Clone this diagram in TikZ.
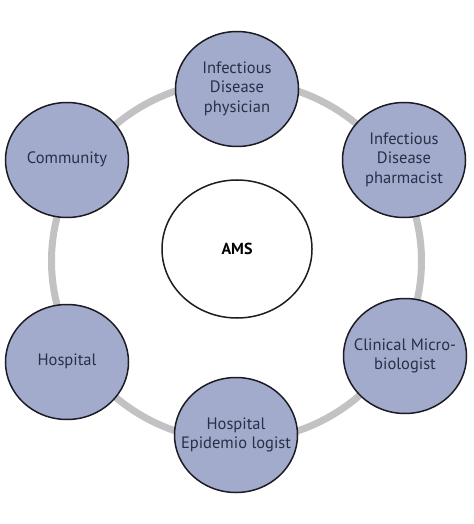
\documentclass[tikz,border=0pt]{standalone}
\usepackage{fontspec}
\setmainfont{PT Sans}
\usetikzlibrary{shapes.geometric}
\definecolor{ringgray}{HTML}{C2C2C4}
\definecolor{nodefill}{HTML}{A3ABCD}
\definecolor{nodetext}{HTML}{2A2F48}
\definecolor{edgecol}{HTML}{1C1C24}
\newcommand{\ctext}[1]{\makebox[0pt]{\begin{tabular}{@{}c@{}}#1\end{tabular}}}
\tikzset{
  ring/.style={draw=ringgray, line width=7bp},
  member/.style={ellipse, draw=edgecol, line width=1.5bp, fill=nodefill,
    minimum width=123bp, minimum height=115bp, inner sep=0pt,
    text=nodetext, font=\fontsize{16.5bp}{19.5bp}\selectfont},
  core/.style={ellipse, draw=edgecol, line width=1.5bp, fill=white,
    minimum width=150bp, minimum height=138bp, inner sep=0pt,
    font=\bfseries\fontsize{16bp}{19bp}\selectfont}
}
\begin{document}
\begin{tikzpicture}[x=1bp,y=-1bp]
\useasboundingbox (0,0) rectangle (474,524);
\fill[white] (0,0) rectangle (474,524);
\draw[ring] (236.5,261) ellipse [x radius=185, y radius=180];
\node[core] (ams) at (237,249) {AMS};
\node[member] (idp) at (237,89) {\ctext{Infectious\\Disease\\physician}};
\node[member] (pharm) at (404,160) {\ctext{Infectious\\Disease\\pharmacist}};
\node[member] (micro) at (405,356) {\ctext{Clinical Micro-\\biologist}};
\node[member] (epi) at (236,435) {\ctext{Hospital\\Epidemio logist}};
\node[member] (hosp) at (67,362) {\ctext{Hospital}};
\node[member] (comm) at (67,160) {\ctext{Community}};
\end{tikzpicture}
\end{document}
